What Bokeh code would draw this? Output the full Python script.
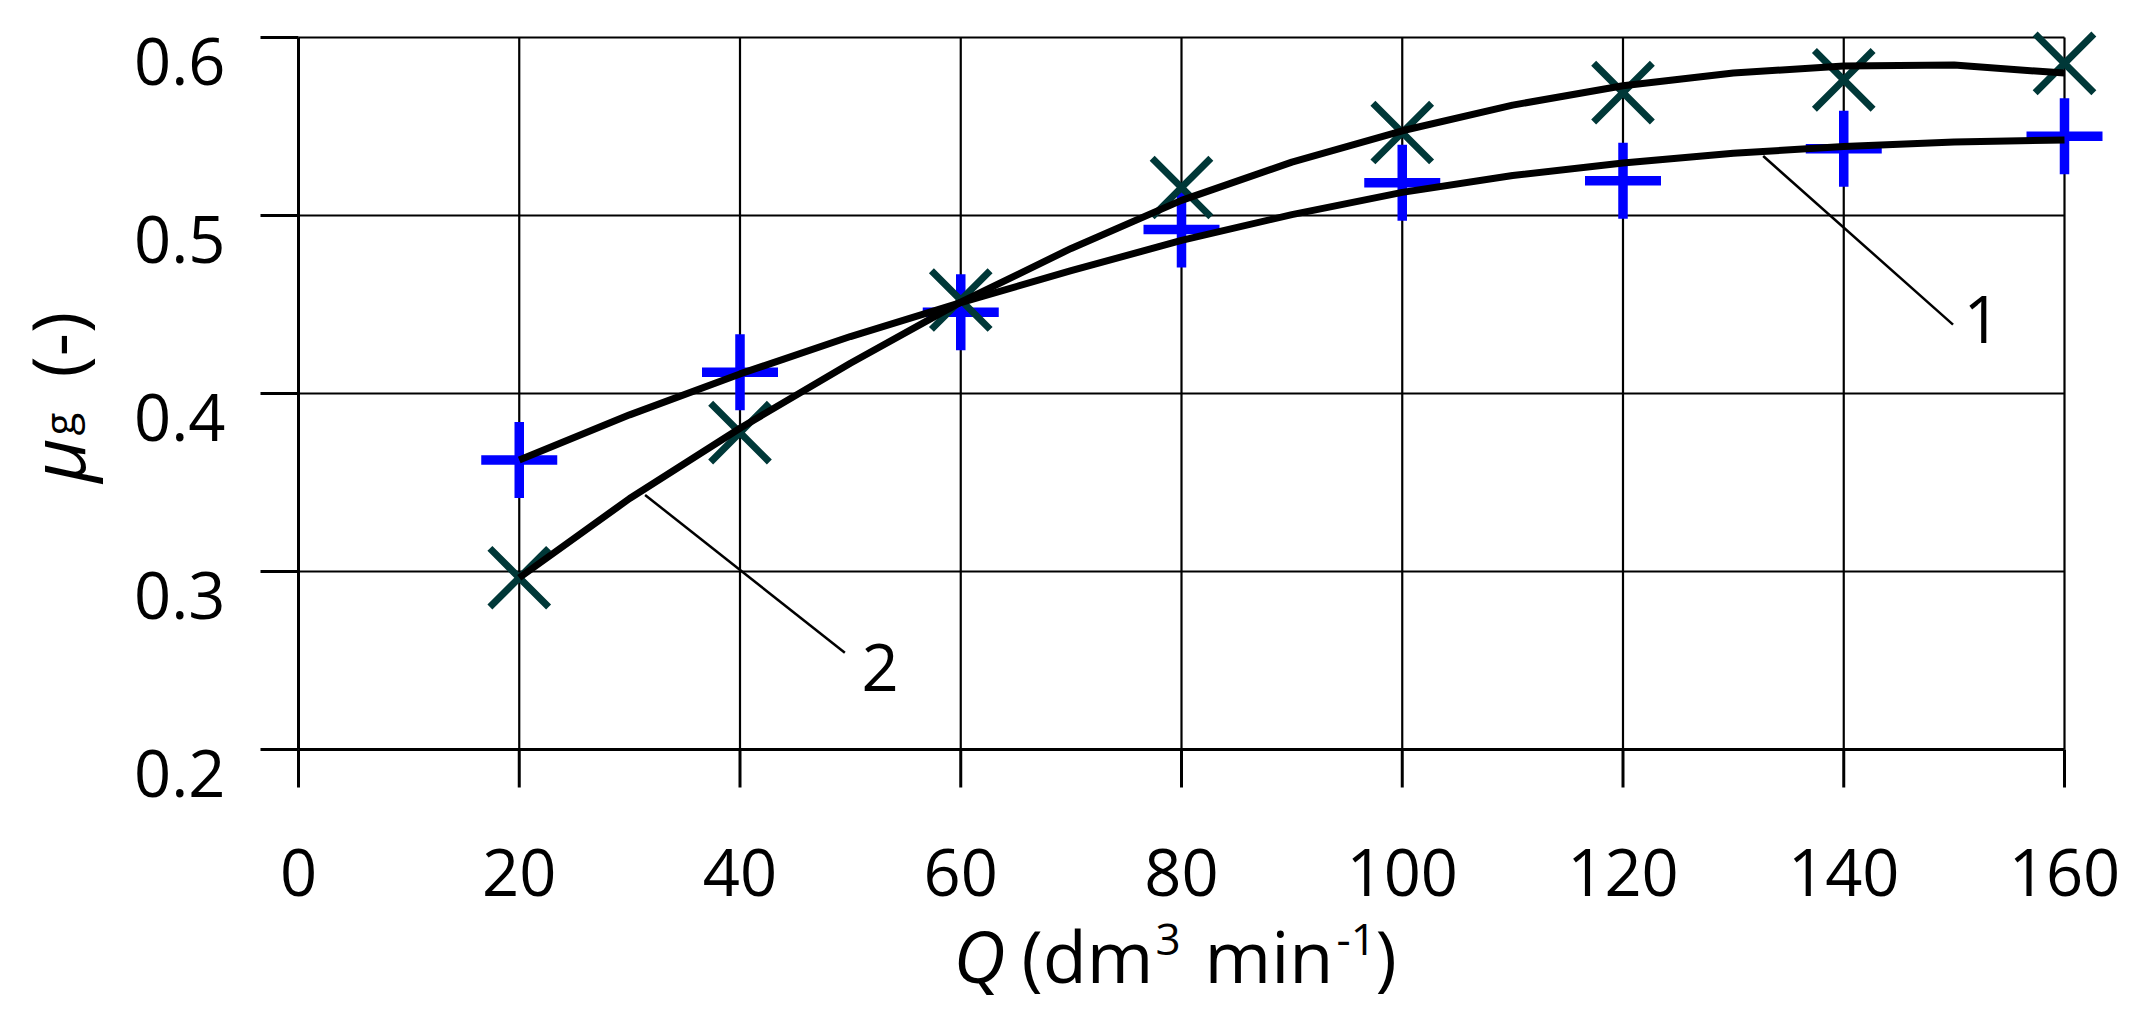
from math import pi
from bokeh.plotting import figure
from bokeh.models import Range1d
from bokeh.core.properties import value
from bokeh.embed import file_html
from bokeh.resources import INLINE

# ---------------- data ----------------
q = [20, 40, 60, 80, 100, 120, 140, 160]
mu_series1 = [0.3626, 0.412, 0.4457, 0.4921, 0.5184, 0.5195, 0.5375, 0.5445]   # blue "+"
mu_series2 = [0.2965, 0.378, 0.4525, 0.5157, 0.5466, 0.569, 0.5762, 0.5855]    # dark "x"

fit_q = [20, 30, 40, 50, 60, 70, 80, 90, 100, 110, 120, 130, 140, 150, 160]
fit_series1 = [0.3626, 0.388, 0.411, 0.432, 0.451, 0.469, 0.486, 0.5005, 0.513,
               0.5225, 0.5295, 0.535, 0.5387, 0.5413, 0.5424]
fit_series2 = [0.2965, 0.341, 0.3805, 0.417, 0.4513, 0.4815, 0.5085, 0.530, 0.5476,
               0.562, 0.5729, 0.580, 0.584, 0.5845, 0.580]

x_ticks = [0, 20, 40, 60, 80, 100, 120, 140, 160]
y_ticks = [0.2, 0.3, 0.4, 0.5, 0.6]

leader1_q = [132.7, 149.9]
leader1_mu = [0.5334, 0.4387]
leader2_q = [31.4, 49.5]
leader2_mu = [0.343, 0.2543]

x_title = ["Q", "(dm", "3", "min", "-1", ")"]
y_title = ["μ", "g", "(-)"]

# ---------------- geometry (page pixels) ----------------
W, H = 2130, 1012
PX_PER_Q = 1766 / 160
PX_PER_MU = 712 / 0.4
FONT = "Open Sans"
K = 0.31  # observed offset of the text anchor above the baseline (in em)


def qx(px):  # page pixel -> data x
    return (px - 306) / PX_PER_Q


def my(py):  # page pixel -> data y
    return 0.2 + (757 - py) / PX_PER_MU


def dxp(px):
    return px / PX_PER_Q


def dyp(py):
    return py / PX_PER_MU


p = figure(width=W, height=H, output_backend="svg", toolbar_location=None,
           x_range=Range1d(qx(8), qx(8 + W)), y_range=Range1d(my(8 + H), my(8)),
           x_axis_location=None, y_axis_location=None, min_border=0)
p.outline_line_color = None
p.grid.visible = False
p.background_fill_color = "white"
p.border_fill_color = "white"

x0, x1 = x_ticks[0], x_ticks[-1]
y0, y1 = y_ticks[0], y_ticks[-1]

# grid lines
hy = y_ticks[1:]
p.segment(x0=[x0] * len(hy), y0=hy, x1=[x1] * len(hy), y1=hy,
          line_color="black", line_width=2.2)
vx = x_ticks[1:]
p.segment(x0=vx, y0=[y0] * len(vx), x1=vx, y1=[y1] * len(vx),
          line_color="black", line_width=2.2)

# axes lines and ticks
p.segment(x0=[x0, x0], y0=[y0, y0], x1=[x1, x0], y1=[y0, y1],
          line_color="black", line_width=3)
p.segment(x0=x_ticks, y0=[y0] * len(x_ticks), x1=x_ticks,
          y1=[y0 - dyp(38)] * len(x_ticks), line_color="black", line_width=3)
p.segment(x0=[x0] * len(y_ticks), y0=y_ticks, x1=[x0 - dxp(38)] * len(y_ticks),
          y1=y_ticks, line_color="black", line_width=3)

# tick labels
p.text(x=x_ticks, y=[my(900 - K * 65)] * len(x_ticks), text=[str(t) for t in x_ticks],
       text_font=value(FONT), text_font_size=value("65px"), text_color="black",
       text_align="center", text_baseline="alphabetic")
p.text(x=[qx(233)] * len(y_ticks), y=[t - dyp(24) for t in y_ticks],
       text=[f"{t:.1f}" for t in y_ticks],
       text_font=value(FONT), text_font_size=value("65px"), text_color="black",
       text_align="right", text_baseline="alphabetic")

# markers
p.scatter(q, mu_series1, marker="cross", size=76, line_width=9.5, line_color="#0000FF")
p.scatter(q, mu_series2, marker="x", size=83, line_width=7, line_color="#003838")

# fitted curves
p.line(fit_q, fit_series1, line_width=7, line_color="black", line_join="round")
p.line(fit_q, fit_series2, line_width=7, line_color="black", line_join="round")

# leader lines
p.line(leader1_q, leader1_mu, line_width=2.5, line_color="black")
p.line(leader2_q, leader2_mu, line_width=2.5, line_color="black")


def lab(text, px, py, size, style="normal"):
    """horizontal text; (px, py) = start of the text on its baseline (page px)"""
    p.text(x=[qx(px)], y=[my(py - K * size)], text=[text], text_font=value(FONT),
           text_font_size=value(f"{size}px"), text_font_style=value(style),
           text_color="black", text_align="left", text_baseline="alphabetic")


def vlab(text, px, py, size, style="normal"):
    """text rotated 90 deg; baseline is the vertical line x = px, text starts at py"""
    p.text(x=[qx(px - K * size)], y=[my(py)], text=[text], text_font=value(FONT),
           text_font_size=value(f"{size}px"), text_font_style=value(style),
           text_color="black", text_align="left", text_baseline="alphabetic",
           angle=pi / 2)


lab("1", 1971, 347, 65)
lab("2", 869, 695, 65)

# x axis title: Q (dm3 min-1)
lab(x_title[0], 961, 985, 72, "italic")
lab(x_title[1], 1029, 985, 72)
lab(x_title[2], 1163, 961, 44)
lab(x_title[3], 1212, 985, 72)
lab(x_title[4], 1344, 961, 44)
lab(x_title[5], 1383, 985, 72)

# y axis title: mu_g (-)
vlab(y_title[0], 87, 490, 76, "italic")
vlab(y_title[1], 79, 443, 42)
vlab(y_title[2], 86, 385, 72)

open("out.html", "w").write(file_html(p, INLINE))
